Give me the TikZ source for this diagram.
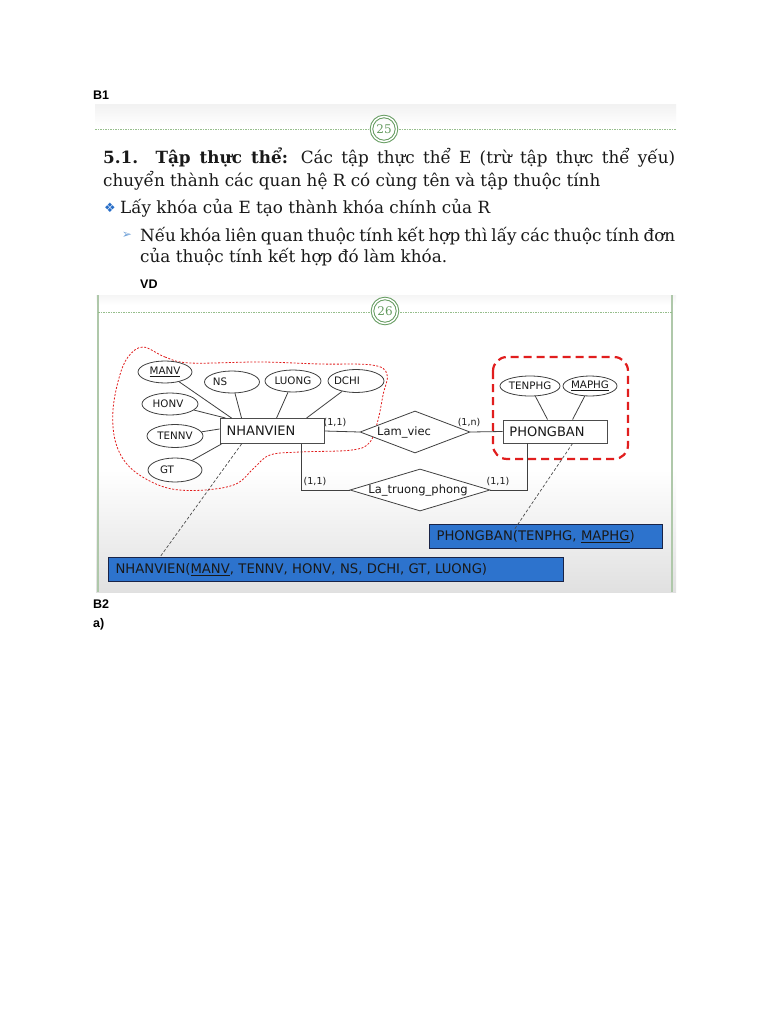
\documentclass[tikz,border=0pt]{standalone}
\usepackage{fontspec}
\setmainfont{DejaVu Serif}
\newfontfamily\arialf{Liberation Sans}
\newfontfamily\dejav{DejaVu Sans}
\usetikzlibrary{shapes.geometric,calc}
\definecolor{slidegreen}{RGB}{100,155,95}
\definecolor{dotgreen}{RGB}{150,190,140}
\definecolor{bordergreen}{RGB}{175,200,170}
\definecolor{boxblue}{RGB}{45,115,205}
\definecolor{boxedge}{RGB}{25,35,70}
\definecolor{ered}{RGB}{225,30,30}
\definecolor{bulletblue}{RGB}{40,110,200}
\definecolor{arrowblue}{RGB}{110,160,215}
\definecolor{ertext}{RGB}{25,25,25}
\tikzset{
  heading/.style={anchor=base west, inner sep=0, font=\arialf\bfseries\fontsize{12.5}{14}\selectfont},
  slidetext/.style={anchor=base west, inner sep=0, text=ertext, font=\fontsize{16.8}{20}\selectfont},
  dotline/.style={draw=dotgreen, line width=1pt, dash pattern=on 1.5pt off 1pt},
  pagecirc/.style={circle, draw=slidegreen, double=white, double distance=1.5pt, line width=1pt,
    minimum size=25pt, inner sep=0, text=slidegreen, font=\fontsize{12}{14}\selectfont},
  attr/.style={ellipse, draw=black!75, line width=0.8pt, fill=white, minimum width=54pt, minimum height=22pt,
    inner sep=0, font=\dejav\fontsize{10.3}{12}\selectfont, text=ertext},
  entity/.style={rectangle, draw=black!70, line width=0.9pt, fill=white, minimum width=104pt, minimum height=24pt,
    inner sep=0, font=\dejav\fontsize{13}{15}\selectfont, text=ertext},
  relshape/.style={diamond, draw=black!75, line width=0.8pt, fill=white, inner sep=0, aspect=2.6},
  reltext/.style={inner sep=0, font=\dejav\fontsize{11.5}{13}\selectfont, text=ertext},
  card/.style={inner sep=0, font=\dejav\fontsize{9.5}{11}\selectfont, text=ertext},
  erline/.style={draw=black!75, line width=0.8pt},
  leader/.style={draw=black!70, line width=0.7pt, dash pattern=on 3pt off 2pt},
  bluebox/.style={rectangle, fill=boxblue, draw=boxedge, line width=1.1pt, anchor=north west,
    minimum height=24pt, inner xsep=7pt, inner ysep=0, align=left, text=ertext,
    font=\dejav\fontsize{13.2}{15}\selectfont},
}
\begin{document}
\begin{tikzpicture}[x=1pt,y=-1pt]
\useasboundingbox (0,0) rectangle (768,1024);
\fill[white] (0,0) rectangle (768,1024);

% headings
\node[heading] (b1) at (93,100) {B1};
\node[heading] (vd) at (140,288) {VD};
\node[heading] (b2) at (93,608) {B2};
\node[heading] (ba) at (93,627) {a)};

% ---------- slide 25 ----------
\fill[white] (95,105) rectangle (676,272);
\shade[top color=gray!10, bottom color=white] (95,105) rectangle (676,126);
\draw[dotline] (95,130) -- (369,130);
\draw[dotline] (399,130) -- (676,130);
\node[pagecirc] (p25) at (384,129) {25};

\node[slidetext] (l1) at (103,164) {\hbox to 572pt{\textbf{5.1. Tập thực thể:} Các tập thực thể E (trừ tập thực thể yếu)}};
\node[slidetext] (l2) at (103,187) {chuyển thành các quan hệ R có cùng tên và tập thuộc tính};
\node[inner sep=0, text=bulletblue, font=\dejav\fontsize{13}{14}\selectfont] (bul1) at (110,208) {❖};
\node[slidetext] (l3) at (120,214) {Lấy khóa của E tạo thành khóa chính của R};
\node[inner sep=0, text=arrowblue, font=\dejav\fontsize{12}{13}\selectfont] (bul2) at (127,235) {➢};
\node[slidetext] (l4) at (140,241) {\hbox to 535pt{Nếu khóa liên quan thuộc tính kết hợp thì lấy các thuộc tính đơn}};
\node[slidetext] (l5) at (140,262) {của thuộc tính kết hợp đó làm khóa.};

% ---------- slide 26 ----------
\fill[white] (96,295) rectangle (676,592);
\shade[top color=gray!8, bottom color=white] (96,295) rectangle (676,305);
\shade[top color=white, bottom color=gray!24] (96,470) rectangle (676,592);
\draw[bordergreen, line width=1.6pt] (98,295) -- (98,592);
\draw[bordergreen, line width=1.6pt] (672,295) -- (672,592);
\draw[dotline] (98,312) -- (370,312);
\draw[dotline] (400,312) -- (672,312);
\node[pagecirc] (p26) at (385,311) {26};

% red groupings
\draw[ered, line width=0.8pt, dash pattern=on 2pt off 1.6pt] plot[smooth cycle, tension=0.6] coordinates {
 (143,347) (165,357) (190,363) (260,362) (320,364) (372,365) (387,374) (383,395) (378,420) (370,442)
 (352,450) (300,452) (270,455) (254,468) (236,484) (205,490) (172,489) (146,479) (126,463)
 (115,440) (113,410) (119,378) (128,357)};
\draw[ered, line width=2.2pt, dash pattern=on 8pt off 5pt, rounded corners=14pt] (493,357) rectangle (628,459);

% entities
\node[entity, minimum height=25pt] (nv) at (272,431) {\hspace*{-22pt}NHANVIEN};
\node[entity, minimum height=23pt] (pb) at (555,431.5) {\hspace*{-16pt}PHONGBAN};

% attributes of NHANVIEN
\node[attr] (manv) at (165,372) {\underline{MANV}};
\node[attr, minimum width=55pt] (ns) at (232,382) {\hspace*{-24pt}NS};
\node[attr, minimum width=56pt] (luong) at (293,381) {LUONG};
\node[attr, minimum width=56pt, minimum height=23pt] (dchi) at (356,381) {\hspace*{-18pt}DCHI};
\node[attr, minimum width=56pt] (honv) at (170,404) {\hspace*{-4pt}HONV};
\node[attr, minimum width=56pt, minimum height=23pt] (tennv) at (175,436) {TENNV};
\node[attr, minimum height=24pt] (gt) at (175,470) {\hspace*{-16pt}GT};

% attributes of PHONGBAN
\node[attr, minimum height=20pt] (tenphg) at (530,386) {TENPHG};
\node[attr, minimum height=20pt] (maphg) at (590,386) {\underline{MAPHG}};

\draw[erline] (manv) -- ($(nv.north west)+(12,0)$);
\draw[erline] (ns) -- ($(nv.north west)+(22,0)$);
\draw[erline] (luong) -- ($(nv.north west)+(57,0)$);
\draw[erline] (dchi) -- ($(nv.north west)+(87,0)$);
\draw[erline] (honv) -- ($(nv.north west)+(6,0)$);
\draw[erline] (tennv) -- ($(nv.west)+(0,-2)$);
\draw[erline] (gt) -- ($(nv.south west)+(2,0)$);
\draw[erline] (tenphg) -- ($(pb.north west)+(45,0)$);
\draw[erline] (maphg) -- ($(pb.north west)+(70,0)$);

% relationships
\node[relshape, minimum width=110pt, minimum height=42pt] (lv) at (415,432) {};
\node[reltext] (lvt) at (404,432) {Lam\_viec};
\node[relshape, minimum width=140pt, minimum height=42pt] (lt) at (420,490) {};
\node[reltext] (ltt) at (418,490) {La\_truong\_phong};

\draw[erline] (nv.east) -- (lv.west);
\draw[erline] (lv.east) -- (pb.west);
\draw[erline] ($(nv.south west)!0.78!(nv.south east)$) |- (lt.west);
\draw[erline] ($(pb.south west)!0.24!(pb.south east)$) |- (lt.east);

\node[card] (c1) at (335,423) {(1,1)};
\node[card] (c2) at (469,423) {(1,n)};
\node[card] (c3) at (315,482) {(1,1)};
\node[card] (c4) at (498,482) {(1,1)};

% relation boxes
\node[bluebox, minimum width=233pt, text width=219pt] (pbbox) at (429,524) {PHONGBAN(TENPHG, \underline{MAPHG})};
\node[bluebox, minimum width=455pt, text width=441pt] (nvbox) at (108,557) {NHANVIEN(\underline{MANV}, TENNV, HONV, NS, DCHI, GT, LUONG)};

\draw[leader] ($(nv.south west)+(22,0)$) -- ($(nvbox.north west)+(52,0)$);
\draw[leader] ($(pb.south west)+(70,0)$) -- ($(pbbox.north west)+(85,6)$);
\end{tikzpicture}
\end{document}
